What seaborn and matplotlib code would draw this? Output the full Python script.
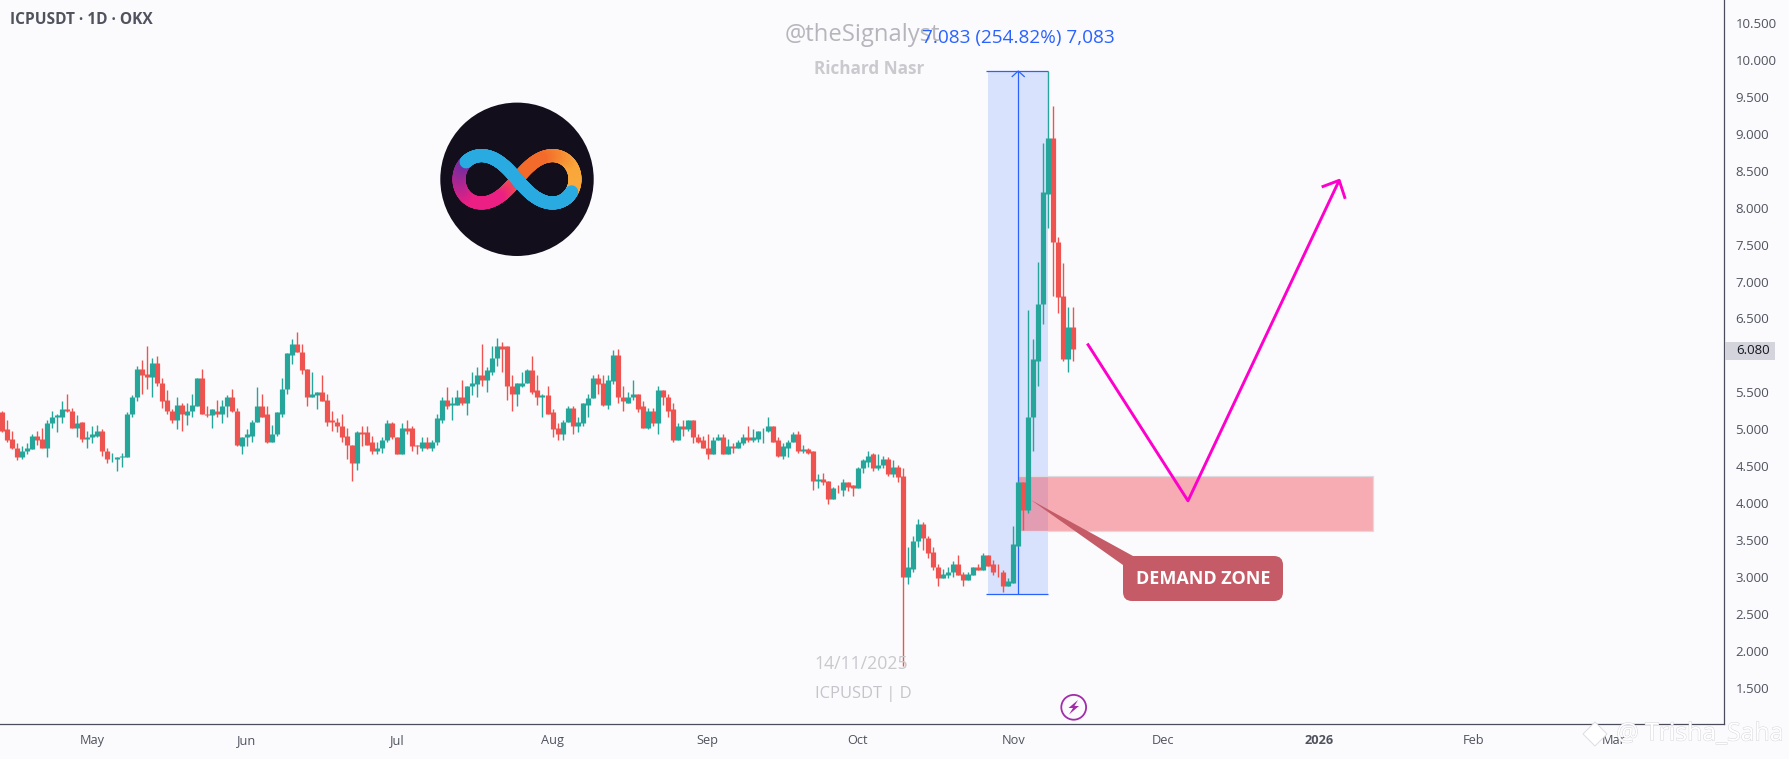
"""
ICPUSDT daily candles with the demand zone and the projected path.
"""

import matplotlib.pyplot as plt
import matplotlib.patheffects as pe
import numpy as np
import pandas as pd
import seaborn as sns
from matplotlib.collections import LineCollection
from matplotlib.colors import LinearSegmentedColormap, to_rgba
from matplotlib.patches import Circle, FancyBboxPatch, Polygon, Rectangle, RegularPolygon

start_date = '2025-04-13'

body_high = [
    5.23, 5.00, 4.87, 4.75, 4.71, 4.74, 4.91, 4.91, 4.87, 5.09,
    5.17, 5.19, 5.28, 5.28, 5.25, 5.09, 5.10, 4.90, 4.94, 4.98,
    4.98, 4.71, 4.60, 4.62, 4.64, 5.21, 5.44, 5.82, 5.82, 5.75,
    5.89, 5.89, 5.63, 5.40, 5.25, 5.33, 5.33, 5.25, 5.33, 5.69,
    5.69, 5.21, 5.27, 5.25, 5.32, 5.43, 5.43, 5.25, 4.90, 4.93,
    5.10, 5.31, 5.32, 5.20, 4.94, 5.23, 5.55, 6.03, 6.16, 6.16,
    6.05, 5.81, 5.47, 5.51, 5.51, 5.39, 5.12, 5.10, 5.05, 4.91,
    4.79, 4.96, 4.96, 4.96, 4.82, 4.75, 4.85, 5.08, 5.08, 4.90,
    5.01, 5.01, 5.01, 4.78, 4.83, 4.83, 4.83, 5.15, 5.40, 5.40,
    5.35, 5.44, 5.44, 5.59, 5.62, 5.74, 5.74, 5.80, 5.97, 6.13,
    6.13, 6.12, 5.59, 5.62, 5.63, 5.80, 5.80, 5.53, 5.46, 5.46,
    5.23, 5.01, 5.10, 5.29, 5.29, 5.10, 5.35, 5.42, 5.70, 5.70,
    5.62, 5.66, 6.00, 6.01, 5.44, 5.44, 5.47, 5.47, 5.31, 5.25,
    5.25, 5.53, 5.53, 5.44, 5.27, 5.05, 5.05, 5.13, 5.13, 4.90,
    4.85, 4.74, 4.86, 4.90, 4.90, 4.77, 4.77, 4.82, 4.89, 4.89,
    4.89, 4.97, 4.98, 5.04, 5.04, 4.85, 4.77, 4.83, 4.93, 4.93,
    4.73, 4.73, 4.70, 4.32, 4.32, 4.30, 4.21, 4.21, 4.28, 4.29,
    4.24, 4.48, 4.58, 4.64, 4.66, 4.52, 4.60, 4.60, 4.49, 4.49,
    4.36, 3.13, 3.49, 3.71, 3.72, 3.53, 3.34, 3.14, 3.04, 3.07,
    3.18, 3.18, 3.04, 3.04, 3.14, 3.14, 3.29, 3.29, 3.17, 3.07,
    3.06, 2.94, 3.44, 4.28, 4.28, 5.17, 5.95, 6.70, 8.21, 8.94,
    8.94, 7.54, 6.81, 6.38, 6.38,
]
body_low = [
    4.98, 4.86, 4.74, 4.63, 4.63, 4.70, 4.73, 4.86, 4.75, 4.75,
    5.08, 5.16, 5.17, 5.24, 5.01, 5.01, 4.87, 4.87, 4.90, 4.91,
    4.70, 4.59, 4.59, 4.59, 4.62, 4.63, 5.20, 5.43, 5.74, 5.71,
    5.71, 5.62, 5.38, 5.24, 5.12, 5.12, 5.20, 5.19, 5.24, 5.32,
    5.20, 5.19, 5.19, 5.20, 5.20, 5.31, 5.24, 4.78, 4.77, 4.89,
    4.91, 5.10, 5.17, 4.83, 4.83, 4.93, 5.21, 5.54, 6.01, 6.04,
    5.80, 5.44, 5.43, 5.46, 5.38, 5.10, 5.10, 5.04, 4.90, 4.78,
    4.54, 4.54, 4.94, 4.79, 4.71, 4.71, 4.74, 4.85, 4.89, 4.67,
    4.67, 4.98, 4.77, 4.77, 4.75, 4.75, 4.75, 4.82, 5.13, 5.32,
    5.33, 5.33, 5.36, 5.36, 5.58, 5.61, 5.66, 5.66, 5.78, 5.96,
    6.09, 5.58, 5.47, 5.47, 5.59, 5.63, 5.51, 5.43, 5.44, 5.21,
    5.00, 4.93, 4.93, 5.10, 5.05, 5.05, 5.09, 5.33, 5.42, 5.61,
    5.33, 5.33, 5.65, 5.43, 5.38, 5.36, 5.43, 5.28, 5.01, 5.01,
    5.08, 5.08, 5.43, 5.24, 4.86, 4.86, 5.00, 5.00, 4.89, 4.83,
    4.74, 4.67, 4.67, 4.85, 4.67, 4.67, 4.74, 4.74, 4.81, 4.85,
    4.85, 4.87, 4.97, 4.97, 4.83, 4.64, 4.64, 4.75, 4.82, 4.70,
    4.71, 4.68, 4.30, 4.30, 4.29, 4.06, 4.06, 4.20, 4.18, 4.22,
    4.21, 4.21, 4.47, 4.56, 4.48, 4.48, 4.51, 4.40, 4.40, 4.35,
    3.00, 3.00, 3.11, 3.48, 3.52, 3.33, 3.13, 2.99, 2.99, 3.03,
    3.06, 3.03, 2.96, 2.96, 3.03, 3.10, 3.10, 3.15, 3.06, 3.06,
    2.88, 2.88, 2.92, 3.42, 3.91, 3.91, 5.16, 5.93, 6.69, 8.18,
    7.53, 6.79, 5.95, 5.95, 6.08,
]
wick_high = [
    5.25, 5.13, 4.97, 4.81, 4.77, 4.81, 4.94, 4.97, 5.01, 5.12,
    5.24, 5.20, 5.38, 5.47, 5.29, 5.19, 5.10, 4.98, 5.04, 5.06,
    5.00, 4.74, 4.68, 4.63, 4.68, 5.23, 5.46, 5.85, 5.94, 6.12,
    5.97, 5.99, 5.70, 5.53, 5.27, 5.44, 5.36, 5.35, 5.48, 5.70,
    5.82, 5.32, 5.27, 5.40, 5.40, 5.46, 5.55, 5.29, 4.90, 5.00,
    5.13, 5.57, 5.47, 5.31, 5.06, 5.23, 5.69, 6.03, 6.22, 6.31,
    6.15, 5.81, 5.78, 5.51, 5.73, 5.47, 5.25, 5.15, 5.21, 5.01,
    4.79, 4.98, 5.05, 5.05, 4.91, 4.82, 4.89, 5.13, 5.10, 4.90,
    5.09, 5.13, 5.04, 4.78, 4.90, 4.89, 4.86, 5.20, 5.43, 5.57,
    5.43, 5.53, 5.66, 5.59, 5.77, 5.84, 6.16, 5.84, 6.12, 6.24,
    6.18, 6.13, 5.74, 5.62, 5.77, 5.82, 5.99, 5.73, 5.48, 5.58,
    5.28, 5.08, 5.13, 5.32, 5.32, 5.16, 5.35, 5.48, 5.74, 5.75,
    5.74, 5.74, 6.07, 6.08, 5.58, 5.50, 5.67, 5.47, 5.38, 5.29,
    5.29, 5.58, 5.53, 5.48, 5.35, 5.09, 5.13, 5.13, 5.13, 4.94,
    4.91, 4.93, 4.89, 4.93, 4.93, 4.87, 4.81, 4.85, 4.94, 5.05,
    5.00, 4.97, 5.02, 5.16, 5.05, 4.90, 4.81, 4.86, 4.96, 4.98,
    4.79, 4.74, 4.71, 4.39, 4.41, 4.30, 4.22, 4.25, 4.32, 4.29,
    4.25, 4.49, 4.59, 4.70, 4.68, 4.67, 4.64, 4.63, 4.58, 4.51,
    4.47, 3.40, 3.56, 3.78, 3.74, 3.56, 3.41, 3.17, 3.11, 3.13,
    3.22, 3.29, 3.07, 3.07, 3.14, 3.18, 3.32, 3.30, 3.23, 3.18,
    3.09, 2.98, 3.69, 4.30, 4.28, 6.62, 6.22, 7.27, 8.87, 9.85,
    9.37, 7.60, 7.25, 6.66, 6.65,
]
wick_low = [
    4.96, 4.82, 4.73, 4.58, 4.59, 4.66, 4.73, 4.78, 4.74, 4.62,
    5.02, 4.96, 5.09, 5.23, 5.01, 4.90, 4.83, 4.74, 4.81, 4.90,
    4.64, 4.54, 4.55, 4.44, 4.49, 4.63, 5.17, 5.38, 5.48, 5.55,
    5.43, 5.59, 5.29, 5.21, 5.08, 5.00, 4.97, 5.06, 5.16, 5.32,
    5.20, 5.17, 5.01, 5.17, 5.09, 5.17, 5.23, 4.77, 4.67, 4.77,
    4.82, 5.10, 5.17, 4.81, 4.83, 4.91, 5.17, 5.48, 5.88, 6.04,
    5.75, 5.31, 5.43, 5.27, 5.38, 5.05, 4.97, 4.96, 4.82, 4.59,
    4.30, 4.45, 4.77, 4.78, 4.66, 4.66, 4.68, 4.82, 4.87, 4.66,
    4.66, 4.93, 4.71, 4.67, 4.71, 4.73, 4.70, 4.79, 5.09, 5.27,
    5.13, 5.33, 5.33, 5.19, 5.46, 5.44, 5.59, 5.51, 5.74, 5.85,
    5.77, 5.39, 5.25, 5.31, 5.57, 5.62, 5.48, 5.33, 5.17, 5.21,
    4.89, 4.85, 4.86, 5.10, 4.94, 4.96, 5.05, 5.17, 5.42, 5.48,
    5.32, 5.28, 5.61, 5.36, 5.24, 5.36, 5.39, 5.23, 5.01, 5.00,
    5.04, 4.93, 5.33, 5.17, 4.83, 4.85, 4.91, 4.97, 4.81, 4.81,
    4.74, 4.59, 4.66, 4.85, 4.67, 4.67, 4.68, 4.74, 4.78, 4.83,
    4.83, 4.83, 4.81, 4.96, 4.83, 4.63, 4.60, 4.63, 4.82, 4.68,
    4.68, 4.67, 4.17, 4.21, 4.24, 3.99, 4.05, 4.14, 4.10, 4.16,
    4.09, 4.21, 4.41, 4.49, 4.43, 4.45, 4.48, 4.36, 4.35, 4.28,
    1.80, 2.90, 3.07, 3.41, 3.36, 3.26, 3.10, 2.88, 2.99, 2.99,
    3.00, 3.03, 2.87, 2.96, 3.03, 3.09, 3.09, 3.15, 3.02, 3.00,
    2.79, 2.88, 2.92, 3.42, 3.63, 3.86, 4.71, 5.58, 6.43, 7.73,
    6.80, 6.58, 5.93, 5.77, 5.92,
]
# up or down, one letter per candle
direction = (
    'RRRRGGGRRG' 'GGGRRGRGGG' 'RRGGGGGGRR' 'GRRRRGRGGG' 'RRGRGGRRGG'
    'GGRRGGGGGR' 'RRGGRRRRRR' 'RGRRRGGGRR' 'GRRRGRGGGR' 'GGRGGGRGGG'
    'RRRGGGRRGR' 'RRGGRGGGGR' 'RGGRRGGRRG' 'RGRRRGRGRR' 'RRGGRGRGGR'
    'GGGGRRGGGR' 'GRRGRRGRGR' 'RGGGRGGRGR' 'RGGGRRRRGG' 'GRRGGRGRRR'
    'RGGGRGGGGG' 'RRRGR'
)

# projected path and its arrow, as day offset and price
path_days = [216.8, 236.9, 267.1]
path_prices = [6.16, 4.03, 8.37]
barb_days = [263.6, 267.1, 268.3]
barb_prices = [8.28, 8.37, 8.12]

measure_days = [197, 203, 209]
measure_prices = [2.77, 9.85]
zone_days = [203, 273.8]
zone_prices = [3.62, 4.37]

price_ticks = [1.5, 2.0, 2.5, 3.0, 3.5, 4.0, 4.5, 5.0, 5.5, 6.5, 7.0, 7.5, 8.0, 8.5, 9.0, 9.5, 10.0, 10.5]
last_price = 6.08
month_dates = ['2025-05-01', '2025-06-01', '2025-07-01', '2025-08-01', '2025-09-01', '2025-10-01',
               '2025-11-01', '2025-12-01', '2026-01-01', '2026-02-01', '2026-03-01']
month_labels = ['May', 'Jun', 'Jul', 'Aug', 'Sep', 'Oct', 'Nov', 'Dec', '2026', 'Feb', 'Mar']

BG = '#fbfbfd'
UP = '#26a69a'
DOWN = '#ef5350'
BLUE = '#2962ff'
PINK = '#ff00cc'
AXIS = '#4a4c5a'
LABEL = '#50535e'

sns.set_theme(style='white', rc={'axes.facecolor': BG, 'figure.facecolor': BG, 'savefig.facecolor': BG})
plt.rcParams['font.family'] = ['Open Sans', 'DejaVu Sans']
plt.rcParams['lines.solid_capstyle'] = 'butt'

days = np.arange(len(direction))
colors = {'G': UP, 'R': DOWN}
wicks = pd.DataFrame({
    'day': np.repeat(days, 2),
    'price': np.column_stack([wick_low, wick_high]).ravel(),
    'dir': np.repeat(list(direction), 2),
})
bodies = pd.DataFrame({
    'day': np.repeat(days, 2),
    'price': np.column_stack([body_low, body_high]).ravel(),
    'dir': np.repeat(list(direction), 2),
})

fig = plt.figure(figsize=(17.89, 7.59), dpi=100)
ax = fig.add_axes([0, 34.7 / 759, 1724.3 / 1789, 724.3 / 759])

# background shapes go under the candles
ax.add_patch(Rectangle((measure_days[0], measure_prices[0]), measure_days[2] - measure_days[0],
                       measure_prices[1] - measure_prices[0], fc=to_rgba(BLUE, 0.16), ec='none', zorder=1))
ax.add_patch(Rectangle((zone_days[0], zone_prices[0]), zone_days[1] - zone_days[0],
                       zone_prices[1] - zone_prices[0], fc=to_rgba('#f23645', 0.4), ec='#dcdce0', lw=0.9, zorder=1.1))
for price in measure_prices:
    ax.plot([measure_days[0] - 0.4, measure_days[2]], [price, price], color=BLUE, lw=0.9, zorder=1.5)
ax.plot([measure_days[1]] * 2, measure_prices, color=BLUE, lw=0.9, zorder=1.5)
ax.plot([measure_days[1] - 1.3, measure_days[1], measure_days[1] + 1.3],
        [measure_prices[1] - 0.08, measure_prices[1], measure_prices[1] - 0.08], color=BLUE, lw=0.9, zorder=1.5)

sns.lineplot(data=wicks, x='day', y='price', units='day', hue='dir', palette=colors, estimator=None,
             sort=False, lw=1.0, legend=False, ax=ax, zorder=3)
sns.lineplot(data=bodies, x='day', y='price', units='day', hue='dir', palette=colors, estimator=None,
             sort=False, lw=3.75, legend=False, ax=ax, zorder=3)

sns.lineplot(x=path_days, y=path_prices, color=PINK, lw=2.1, estimator=None, sort=False, ax=ax, zorder=4)
sns.lineplot(x=barb_days, y=barb_prices, color=PINK, lw=2.1, estimator=None, sort=False, ax=ax, zorder=4)

ax.set_xlim(-0.333, 344.0)
ax.set_ylim(1.004, 10.812)
ax.set_xlabel('')
ax.set_ylabel('')

for side in ['top', 'left']:
    ax.spines[side].set_visible(False)
for side in ['right', 'bottom']:
    ax.spines[side].set_color(AXIS)
    ax.spines[side].set_linewidth(0.9)

ax.yaxis.tick_right()
ax.set_yticks(price_ticks, [f'{p:.3f}' for p in price_ticks])
ax.tick_params(axis='y', length=0, pad=8, labelsize=9.5, labelcolor=LABEL)
month_days = (pd.to_datetime(month_dates) - pd.Timestamp(start_date)).days
ax.set_xticks(month_days, month_labels)
ax.tick_params(axis='x', length=0, pad=7, labelsize=9.2, labelcolor=LABEL)
ax.get_xticklabels()[8].set_fontweight('bold')

# overlay in figure pixels for the drawn annotations and texts
over = fig.add_axes([0, 0, 1, 1], facecolor='none')
over.set_xlim(0, 1789)
over.set_ylim(759, 0)
over.axis('off')

over.text(10, 20.5, 'ICPUSDT · 1D · OKX', color=LABEL, fontsize=11.2, fontweight='bold', va='center')
over.text(862, 35, '@theSignalyst', color='#b5b5bb', fontsize=17.1, ha='center', va='center')
over.text(869, 68.5, 'Richard Nasr', color='#c9c9ce', fontsize=12.3, fontweight='bold', ha='center', va='center')
over.text(861, 664, '14/11/2025', color='#c8c8cd', fontsize=12.7, ha='center', va='center')
over.text(863, 694, 'ICPUSDT | D', color='#c4c4ca', fontsize=11.9, ha='center', va='center')
over.text(1018.5, 38, '7.083 (254.82%) 7,083', color=BLUE, fontsize=13.7, ha='center', va='center')

# demand zone callout
callout = '#c45b66'
over.add_patch(Polygon([(1031, 500), (1133, 556), (1135, 570), (1123, 565)], fc=callout, ec='none'))
over.add_patch(FancyBboxPatch((1123, 556), 160, 45, boxstyle='round,pad=0,rounding_size=9', fc=callout, ec='none'))
over.text(1203, 579, 'DEMAND ZONE', color='white', fontsize=13, fontweight='bold', ha='center', va='center')

# last price tag
over.add_patch(Rectangle((1725, 342), 50, 18, fc='#d4d5dc', ec='none'))
over.text(1752.7, 351, f'{last_price:.3f}', color='#131722', fontsize=9.5, ha='center', va='center')

# lightning badge
over.add_patch(Circle((1073.7, 707.3), 12.4, fc='none', ec='#a32cab', lw=1.3))
over.add_patch(Polygon([(1078, 700), (1068.5, 708), (1073, 708), (1069, 714.5), (1079, 706), (1074.5, 706)],
                       fc='#a32cab', ec='none'))

# logo, a figure of eight on a dark disc
logo_x, logo_y = 517, 179.3
over.add_patch(Circle((logo_x, logo_y), 76.7, fc='#130e1b', ec='none'))


def lemniscate(t):
    denom = 1 + np.sin(t) ** 2
    return logo_x + 58 * np.cos(t) / denom, logo_y - 67 * np.sin(t) * np.cos(t) / denom


def band(t, colors_at):
    x, y = lemniscate(t)
    points = np.column_stack([x, y])
    segments = np.stack([points[:-1], points[1:]], axis=1)
    return LineCollection(segments, colors=colors_at, linewidths=9.4, capstyle='round')


warm = LinearSegmentedColormap.from_list('warm', ['#f9ae3d', '#f9a63a', '#f26b2a', '#f26b2a', '#ec1f84', '#ec1f84', '#6f2da0'])
warm_t = np.linspace(-0.4, np.pi + 0.35, 300)
over.add_collection(band(warm_t, warm(np.linspace(0, 1, 299))))
blue_t = np.linspace(np.pi + 0.3, 2 * np.pi - 0.2, 300)
over.add_collection(band(blue_t, ['#29abe2'] * 299))

# platform watermark
over.add_patch(RegularPolygon((1595, 734), 4, radius=12, fc='white', ec='#dcdce2', lw=0.7))
over.text(1700, 734, '@ Trisha_Saha', color='white', fontsize=17.9, ha='center', va='center',
          path_effects=[pe.withStroke(linewidth=0.7, foreground='#d6d6dc')])

fig.savefig('out.png', dpi=100)
